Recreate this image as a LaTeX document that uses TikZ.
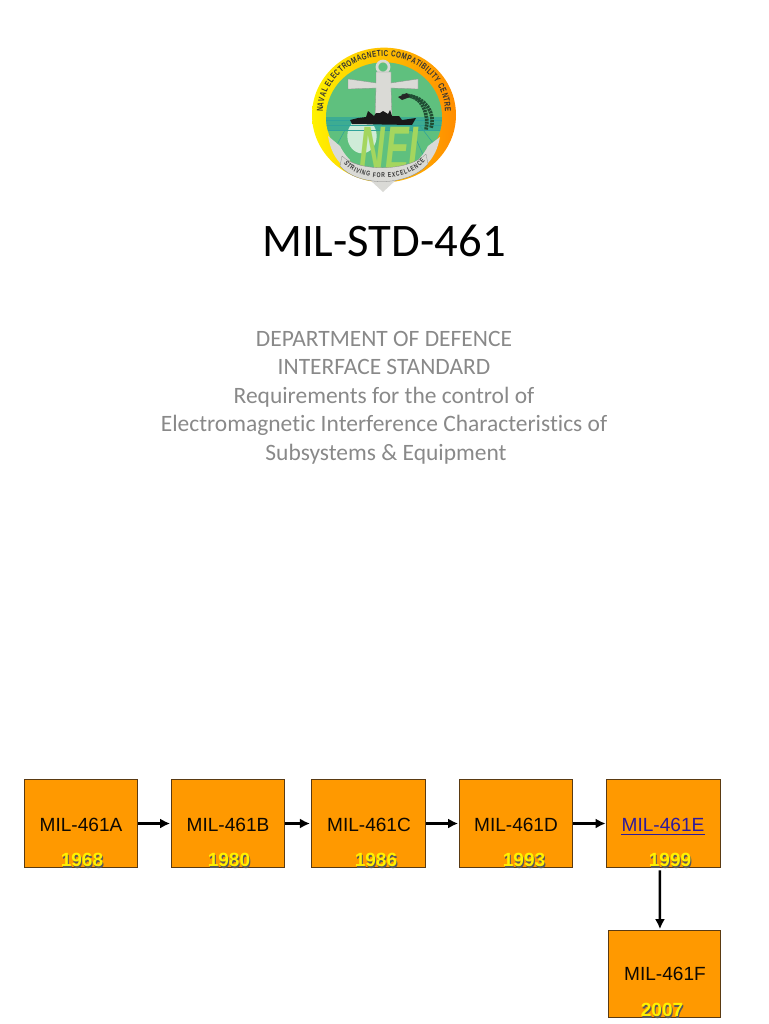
\documentclass[tikz,border=0pt]{standalone}
\usepackage{fontspec}
\usepackage{xcolor}
\usepackage{tikz}
\usetikzlibrary{arrows.meta,decorations.text}
\setmainfont[Ligatures=NoCommon]{Carlito}
\newfontfamily\boxfont{Liberation Sans}
\newfontfamily\crestfont[FakeStretch=0.72]{Liberation Sans}

\definecolor{boxorange}{HTML}{FF9900}
\definecolor{boxedge}{HTML}{5A3A12}
\definecolor{subgray}{HTML}{898989}
\definecolor{linkblue}{HTML}{2E1A9C}
\definecolor{sealine}{HTML}{2FA39A}
\definecolor{crestgreen}{HTML}{5FC07E}
\definecolor{crestgray}{HTML}{DADAD6}
\definecolor{netgreen}{HTML}{1F4D33}
\definecolor{nelgreen}{HTML}{A4D65E}

\tikzset{
  yearbox/.style={draw=boxedge,fill=boxorange,line width=0.8pt,minimum width=85pt,minimum height=65.5pt,inner sep=0pt},
  boxtext/.style={font=\boxfont\fontsize{14.3}{16}\selectfont,text=black!85!boxedge,inner sep=0pt,text height=10pt,text depth=0pt},
  yeartext/.style={font=\boxfont\bfseries\fontsize{14.3}{16}\selectfont,text=yellow,inner sep=0pt},
  yearshade/.style={font=\boxfont\bfseries\fontsize{14.3}{16}\selectfont,text=black!65,inner sep=0pt},
  flow/.style={-{Latex[length=7.5pt,width=7.5pt]},black,line width=1.9pt,shorten >=0.5pt},
  subline/.style={text=subgray,font=\fontsize{17.6}{21}\selectfont,inner sep=0pt,text height=12pt,text depth=4pt}
}

\begin{document}
\begin{tikzpicture}[x=0.75pt,y=-0.75pt]
    \useasboundingbox (0,0) rectangle (768,1024);

    % Crest ring
    \shade[left color=yellow!90!orange,right color=orange!90!yellow] (384,115) ellipse [x radius=54pt,y radius=50.5pt];
    \fill[crestgreen] (384,117) ellipse [x radius=43.5pt,y radius=41pt];

    % Sea, clipped to the inner field
    \begin{scope}
        \clip (384,117) ellipse [x radius=43.5pt,y radius=41pt];
        \fill[sealine!70!crestgreen] (320,117) rectangle (450,130);
        \fill[white!70!crestgreen] (362,136) ellipse [x radius=11pt,y radius=13pt];
        \draw[sealine,line width=0.4pt] (320,120) -- (450,120);
        \draw[sealine,line width=0.4pt] (320,125) -- (450,125);
        \draw[sealine,line width=0.4pt] (320,130) -- (450,130);
        \draw[sealine,line width=0.4pt] (420,126) -- (450,165);
        \draw[sealine,line width=0.4pt] (412,130) -- (432,175);
        \draw[sealine,line width=0.4pt] (345,130) -- (326,165);
    \end{scope}

    % Anchor
    \draw[crestgray,line width=2pt] (383,67) circle (4.5pt);
    \fill[crestgray,draw=black!45,line width=0.2pt] (348,79) -- (376,83) -- (376,72) -- (391,72) -- (391,83) -- (418,79) -- (418,89) -- (391,88) -- (392,118) -- (375,118) -- (376,88) -- (348,89) -- cycle;

    % Ship
    \fill[black!90] (350,120) -- (352,124) -- (412,125) -- (416,118) -- (402,120) -- (399,116) -- (392,116) -- (390,110) -- (388,114) -- (383,111) -- (380,113) -- (376,113) -- (374,116) -- (368,111) -- (366,117) -- (358,118) -- cycle;

    % Net
    \draw[netgreen,line width=2.8pt,dash pattern=on 1.6pt off 0.6pt] (402,96) .. controls (418,92) and (430,110) .. (426,130);
    \draw[netgreen,line width=2.8pt,dash pattern=on 1.6pt off 0.6pt] (410,96) .. controls (424,98) and (436,112) .. (431,128);
    \fill[black!85] (398,97) -- (407,93) -- (410,97) -- (402,100) -- cycle;

    % Anchor flukes, point and scroll
    \fill[crestgray] (328,136) .. controls (330,148) and (334,158) .. (344,167) -- (350,160) .. controls (345,155) and (342,150) .. (340,146) -- cycle;
    \fill[crestgray] (440,137) .. controls (438,148) and (434,158) .. (424,167) -- (418,160) .. controls (423,155) and (426,150) .. (428,146) -- cycle;
    \fill[crestgray] (370,180) -- (396,180) -- (383,192) -- cycle;

    % Crest lettering
    \node[font=\boxfont\bfseries\itshape\fontsize{46}{46}\selectfont,text=nelgreen,inner sep=0pt,xscale=0.58] (crestname) at (389,148) {NEI};
    \fill[crestgray,draw=black!50,line width=0.2pt] (342,156) .. controls (358,172) and (408,172) .. (426,154) -- (428,164) .. controls (408,187) and (358,187) .. (340,166) -- cycle;
    \path[decorate,decoration={text along path,text align={fit to path},
        text={|\crestfont\bfseries\fontsize{6.5}{7}\selectfont\color{black!80}|NAVAL ELECTROMAGNETIC COMPATIBILITY CENTRE}}]
        (323,112) arc [start angle=180,end angle=0,x radius=45.75pt,y radius=41.5pt];
    \path[decorate,decoration={text along path,text align={fit to path},
        text={|\crestfont\bfseries\fontsize{5.2}{6}\selectfont\color{black!80}|STRIVING FOR EXCELLENCE}}]
        (344,163) .. controls (358,183) and (408,183) .. (425,161);

    % Title and subtitle
    \node[font=\fontsize{35}{40}\selectfont,text=black,inner sep=0pt] (title) at (384,241) {MIL-STD-461};
    \node[subline] (subdept) at (384,341.3) {DEPARTMENT OF DEFENCE};
    \node[subline] (subiface) at (384,369.5) {INTERFACE STANDARD};
    \node[subline] (subreq) at (384,398) {Requirements for the control of};
    \node[subline] (subemi) at (384,426.3) {Electromagnetic Interference Characteristics of};
    \node[subline] (subequip) at (386,454.8) {Subsystems \& Equipment};

    % Revision boxes
    \node[yearbox] (boxa) at (81,823.5) {};
    \node[yearbox] (boxb) at (228,823.5) {};
    \node[yearbox,minimum width=86pt] (boxc) at (368.5,823.5) {};
    \node[yearbox] (boxd) at (516,823.5) {};
    \node[yearbox] (boxe) at (663.5,823.5) {};
    \node[yearbox,minimum width=84.5pt] (boxf) at (664.5,974) {};

    % Revision names
    \node[boxtext] (namea) at (81,825) {MIL-461A};
    \node[boxtext] (nameb) at (228,825) {MIL-461B};
    \node[boxtext] (namec) at (369,825) {MIL-461C};
    \node[boxtext] (named) at (516,825) {MIL-461D};
    \node[boxtext,text=linkblue] (namee) at (663,825) {MIL-461E};
    \node[boxtext] (namef) at (665,974) {MIL-461F};
    \draw[linkblue,line width=1pt] ([yshift=-2pt]namee.south west) -- ([yshift=-2pt]namee.south east);

    % Years with their shadows
    \node[yearshade] (shadea) at (83,861.6) {1968};
    \node[yearshade] (shadeb) at (230,861.6) {1980};
    \node[yearshade] (shadec) at (377,861.6) {1986};
    \node[yearshade] (shaded) at (525,861.6) {1993};
    \node[yearshade] (shadee) at (671,861.6) {1999};
    \node[yearshade] (shadef) at (663,1011.6) {2007};
    \node[yeartext] (yeara) at (82,860.3) {1968};
    \node[yeartext] (yearb) at (229,860.3) {1980};
    \node[yeartext] (yearc) at (376,860.3) {1986};
    \node[yeartext] (yeard) at (524,860.3) {1993};
    \node[yeartext] (yeare) at (670,860.3) {1999};
    \node[yeartext] (yearf) at (662,1010.3) {2007};

    % Arrows between revisions
    \draw[flow] (boxa) -- (boxb);
    \draw[flow] (boxb) -- (boxc);
    \draw[flow] (boxc) -- (boxd);
    \draw[flow] (boxd) -- (boxe);
    \draw[flow] ([xshift=-2.7pt,yshift=-2pt]boxe.south) -- ([xshift=-3.4pt]boxf.north);
\end{tikzpicture}
\end{document}
